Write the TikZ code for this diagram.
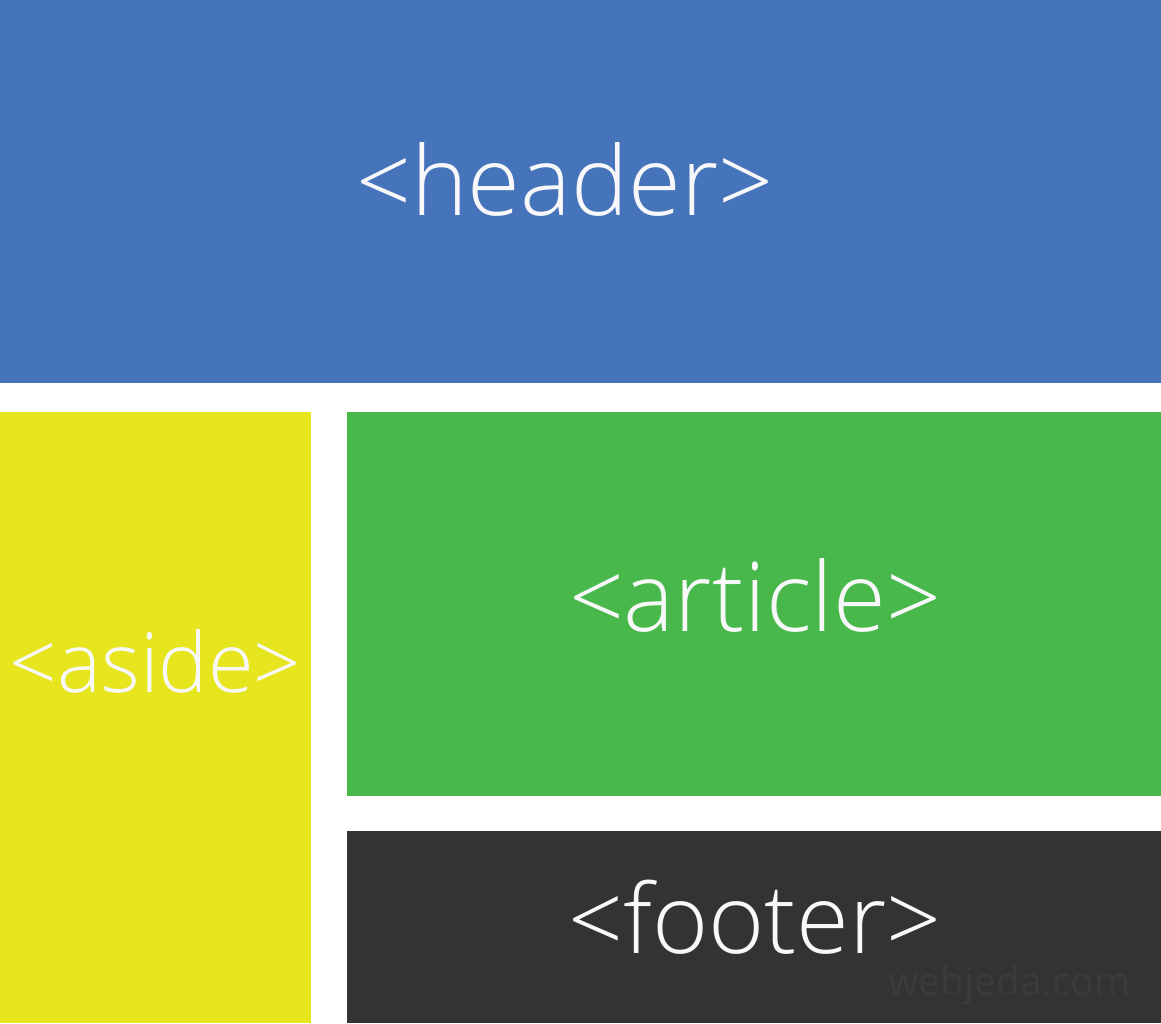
\documentclass[tikz,border=0pt]{standalone}
\usepackage{fontspec}
\setmainfont{Open Sans}
\newfontfamily\tagfont{Open Sans Light}
\definecolor{headerblue}{HTML}{4674BB}
\definecolor{asideyellow}{HTML}{E7E51E}
\definecolor{articlegreen}{HTML}{48B84A}
\definecolor{footerdark}{HTML}{333333}
\definecolor{markgray}{HTML}{3B3B3B}
\definecolor{tagwhite}{HTML}{F8F8FA}

\begin{document}
\begin{tikzpicture}[x=1pt, y=-1pt,
  box/.style={rectangle, inner sep=0pt, outer sep=0pt, anchor=north west},
  tag/.style={anchor=base, inner sep=0pt, text=tagwhite, font=\tagfont\fontsize{96}{96}\selectfont}]

  \useasboundingbox (0,0) rectangle (1161,1024);

  % blocks
  \node[box, fill=headerblue, minimum width=1161pt, minimum height=383pt] (header) at (0,0) {};
  \node[box, fill=asideyellow, minimum width=311pt, minimum height=611pt] (aside) at (0,412) {};
  \node[box, fill=articlegreen, minimum width=814pt, minimum height=384pt] (article) at (347,412) {};
  \node[box, fill=footerdark, minimum width=814pt, minimum height=192pt] (footer) at (347,831) {};

  % labels
  \node[tag] (headertag) at (565,216) {<header>};
  \node[tag, font=\tagfont\fontsize{83}{83}\selectfont] (asidetag) at (155.5,692) {<aside>};
  \node[tag] (articletag) at (755,631) {<article>};
  \node[tag] (footertag) at (755,953) {<footer>};

  % watermark
  \node[anchor=base, inner sep=0pt, text=markgray, font=\fontsize{39}{39}\selectfont] (mark) at (1009.5,995) {webjeda.com};
\end{tikzpicture}
\end{document}
